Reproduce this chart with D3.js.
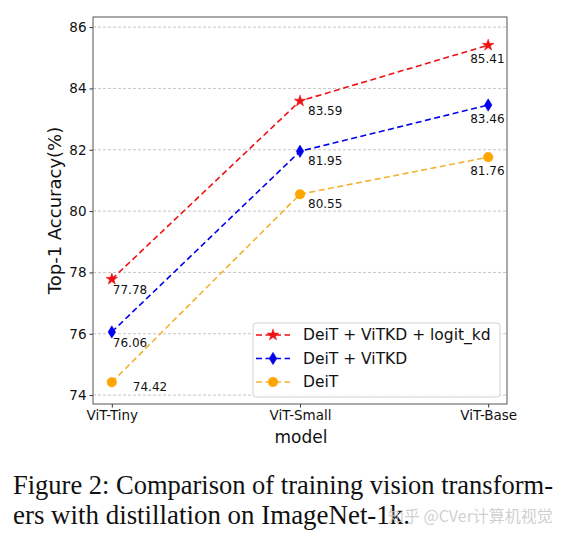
<!DOCTYPE html>
<html>
<head>
<meta charset="utf-8">
<script src="https://cdn.jsdelivr.net/npm/d3@7"></script>
<style>
  body { margin: 0; background: #fff; }
  svg { display: block; }
</style>
</head>
<body>
<div id="chart"></div>
<script>
// data
var models = ["ViT-Tiny", "ViT-Small", "ViT-Base"];
var seriesNames = ["DeiT + ViTKD + logit_kd", "DeiT + ViTKD", "DeiT"];
var logitKdAcc = [77.78, 83.59, 85.41];
var vitkdAcc = [76.06, 81.95, 83.46];
var deitAcc = [74.42, 80.55, 81.76];
var yTicks = [74, 76, 78, 80, 82, 84, 86];
var captionLines = [
    "Figure 2: Comparison of training vision transform-",
    "ers with distillation on ImageNet-1k."
];
var watermark = "知乎 @CVer计算机视觉";

function AccuracyChart(id) {
    var self = this;
    self.sectionId = id;
    self.initVis();
}

AccuracyChart.prototype.initVis = function () {
    var self = this;

    self.svgWidth = 570;
    self.svgHeight = 539;
    self.box = { left: 93, right: 507, top: 17, bottom: 404 };

    self.svg = d3.select("#" + self.sectionId)
        .append("svg")
        .attr("width", self.svgWidth)
        .attr("height", self.svgHeight)
        .style("font-family", "'DejaVu Sans', sans-serif");

    self.svg.append("rect")
        .attr("width", self.svgWidth)
        .attr("height", self.svgHeight)
        .attr("fill", "#fff");

    // matplotlib style categorical axis with 0.1 margin on each side
    self.x = d3.scalePoint()
        .domain(models)
        .range([self.box.left, self.box.right])
        .padding(0.1);

    self.y = d3.scaleLinear()
        .domain([73.71, 86.33])
        .range([self.box.bottom, self.box.top]);

    // grid
    self.svg.append("g")
        .selectAll("line")
        .data(yTicks)
        .join("line")
        .attr("x1", self.box.left)
        .attr("x2", self.box.right)
        .attr("y1", function (d) { return self.y(d); })
        .attr("y2", function (d) { return self.y(d); })
        .attr("stroke", "#b8b8b8")
        .attr("stroke-width", 0.8)
        .attr("stroke-dasharray", "3,2");

    // axes
    var yAxis = self.svg.append("g")
        .attr("transform", "translate(" + self.box.left + ",0)")
        .call(d3.axisLeft(self.y).tickValues(yTicks).tickSize(3.5).tickPadding(3).tickFormat(d3.format("d")));

    var xAxis = self.svg.append("g")
        .attr("transform", "translate(0," + self.box.bottom + ")")
        .call(d3.axisBottom(self.x).tickSize(3.5).tickPadding(3));

    [xAxis, yAxis].forEach(function (g) {
        g.select(".domain").remove();
        g.selectAll(".tick line").attr("stroke", "#333");
        g.selectAll(".tick text")
            .attr("fill", "#111")
            .style("font-size", "13.5px")
            .style("font-family", "'DejaVu Sans', sans-serif");
    });

    // frame
    self.svg.append("rect")
        .attr("x", self.box.left)
        .attr("y", self.box.top)
        .attr("width", self.box.right - self.box.left)
        .attr("height", self.box.bottom - self.box.top)
        .attr("fill", "none")
        .attr("stroke", "#555")
        .attr("stroke-width", 1);

    // axis titles
    self.svg.append("text")
        .attr("x", 301)
        .attr("y", 443)
        .attr("text-anchor", "middle")
        .style("font-size", "17px")
        .attr("fill", "#111")
        .text("model");

    self.svg.append("text")
        .attr("transform", "translate(61," + ((self.box.top + self.box.bottom) / 2) + ") rotate(-90)")
        .attr("text-anchor", "middle")
        .style("font-size", "18px")
        .attr("fill", "#111")
        .text("Top-1 Accuracy(%)");

    self.series = [
        { name: seriesNames[0], values: logitKdAcc, line: "#ee1111", fill: "#ee1111", marker: "star" },
        { name: seriesNames[1], values: vitkdAcc, line: "#0000ee", fill: "#0000ee", marker: "thin_diamond" },
        { name: seriesNames[2], values: deitAcc, line: "#f2b230", fill: "#ffa500", marker: "circle" }
    ];

    var line = d3.line()
        .x(function (d) { return self.x(d.model); })
        .y(function (d) { return self.y(d.value); });

    self.series.forEach(function (s, si) {
        var pts = s.values.map(function (v, i) { return { model: models[i], value: v, col: i }; });

        self.svg.append("path")
            .datum(pts)
            .attr("fill", "none")
            .attr("stroke", s.line)
            .attr("stroke-width", 1.6)
            .attr("stroke-dasharray", "6,3.5")
            .attr("d", line);

        self.svg.append("g")
            .selectAll("path")
            .data(pts)
            .join("path")
            .attr("transform", function (d) { return "translate(" + self.x(d.model) + "," + self.y(d.value) + ")"; })
            .attr("d", self.markerPath(s.marker))
            .attr("fill", s.fill)
            .attr("stroke", s.fill)
            .attr("stroke-width", 0.5);

        self.svg.append("g")
            .selectAll("text")
            .data(pts)
            .join("text")
            .attr("x", function (d) { return self.x(d.model) + self.labelOffset(si, d.col)[0]; })
            .attr("y", function (d) { return self.y(d.value) + self.labelOffset(si, d.col)[1]; })
            .attr("dominant-baseline", "central")
            .style("font-size", "12px")
            .attr("fill", "#111")
            .text(function (d) { return d.value.toFixed(2); });
    });

    self.drawLegend();
    self.drawCaption();
};

AccuracyChart.prototype.markerPath = function (kind) {
    if (kind === "star") {
        return d3.symbol().type(d3.symbolStar).size(42)();
    }
    if (kind === "thin_diamond") {
        return "M0,-6.2L3.8,0L0,6.2L-3.8,0Z";
    }
    return d3.symbol().type(d3.symbolCircle).size(72)();
};

// where each value label sits relative to its point
AccuracyChart.prototype.labelOffset = function (si, col) {
    if (col === 0) {
        return si === 2 ? [21, 5] : [1, 11];
    }
    if (col === 1) {
        return [8, 10];
    }
    return [-18, 14];
};

AccuracyChart.prototype.drawLegend = function () {
    var self = this;

    var lg = self.svg.append("g").attr("transform", "translate(253,323)");

    lg.append("rect")
        .attr("width", 247)
        .attr("height", 74)
        .attr("rx", 3)
        .attr("fill", "#fff")
        .attr("fill-opacity", 0.85)
        .attr("stroke", "#d2d2d2")
        .attr("stroke-width", 1);

    var rows = lg.selectAll("g.row")
        .data(self.series)
        .join("g")
        .attr("class", "row")
        .attr("transform", function (d, i) { return "translate(0," + (12 + i * 23.5) + ")"; });

    rows.append("line")
        .attr("x1", 3)
        .attr("x2", 37)
        .attr("stroke", function (d) { return d.line; })
        .attr("stroke-width", 1.6)
        .attr("stroke-dasharray", "6,3.5");

    rows.append("path")
        .attr("transform", "translate(20,0)")
        .attr("d", function (d) { return self.markerPath(d.marker); })
        .attr("fill", function (d) { return d.fill; })
        .attr("stroke", function (d) { return d.fill; })
        .attr("stroke-width", 0.5);

    rows.append("text")
        .attr("x", 50)
        .attr("dominant-baseline", "central")
        .style("font-size", "15.5px")
        .attr("fill", "#111")
        .text(function (d) { return d.name; });
};

AccuracyChart.prototype.drawCaption = function () {
    var self = this;

    self.svg.append("g")
        .selectAll("text")
        .data(captionLines)
        .join("text")
        .attr("x", 13)
        .attr("y", function (d, i) { return 494 + i * 30; })
        .style("font-family", "'Liberation Serif', 'Times New Roman', serif")
        .style("font-size", "26.5px")
        .attr("fill", "#111")
        .attr("textLength", function (d, i) { return i === 0 ? 540 : 397; })
        .attr("lengthAdjust", "spacingAndGlyphs")
        .text(function (d) { return d; });

    self.svg.append("text")
        .attr("x", 388)
        .attr("y", 522)
        .style("font-family", "'Noto Sans CJK SC', sans-serif")
        .style("font-size", "16px")
        .attr("fill", "#c4c4c4")
        .attr("fill-opacity", 0.8)
        .text(watermark);
};

new AccuracyChart("chart");
</script>
</body>
</html>
